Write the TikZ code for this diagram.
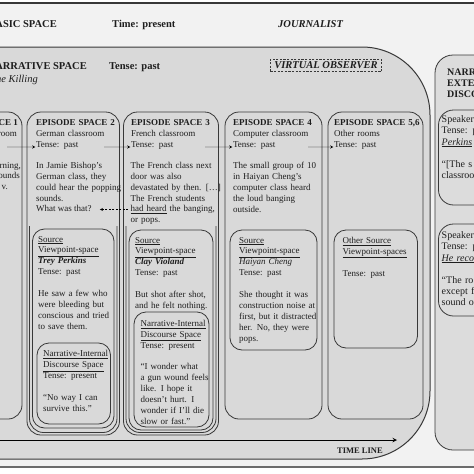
\documentclass[tikz,border=0pt]{standalone}
\usepackage{fontspec}
\setmainfont{Liberation Serif}
\usetikzlibrary{arrows, positioning}

\definecolor{basicfill}{HTML}{F2F2F2}
\definecolor{narrfill}{HTML}{D9D9D9}
\definecolor{extfill}{HTML}{DCDCDC}
\definecolor{boxline}{HTML}{383838}
\definecolor{inkcol}{HTML}{1E1E1E}

\newcommand{\epfont}{\fontsize{9}{10.9}\selectfont}
\newcommand{\hdfont}{\fontsize{10.5}{12.5}\selectfont\bfseries}
\newcommand{\extfont}{\fontsize{10}{11.2}\selectfont}

\tikzstyle{narrspace} = [draw=boxline, line width=1pt, fill=narrfill, rounded corners=68pt]
\tikzstyle{extspace} = [draw=boxline, line width=0.8pt, fill=extfill, rounded corners=18pt]
\tikzstyle{extsub} = [draw=boxline, line width=0.8pt, rounded corners=15pt]
\tikzstyle{episode} = [draw=boxline, line width=0.8pt, rounded corners=14pt]
\tikzstyle{subspace} = [draw=boxline, line width=0.8pt, rounded corners=12pt]
\tikzstyle{spacehead} = [font=\hdfont, text=inkcol, inner sep=0pt]
\tikzstyle{observer} = [draw=boxline, line width=0.8pt, dash pattern=on 2.2pt off 1.4pt, font=\hdfont\itshape, text=inkcol, inner xsep=4pt, inner ysep=2.5pt]
\tikzstyle{eptitle} = [font=\epfont\bfseries, text=inkcol, inner sep=0pt, text width=90pt, align=left, text height=6.2pt, text depth=1.8pt]
\tikzstyle{epline} = [font=\epfont, text=inkcol, inner sep=0pt, text width=90pt, align=left, text height=6.2pt, text depth=1.8pt]
\tikzstyle{epword} = [font=\epfont, text=inkcol, inner sep=0pt, anchor=west, text height=6.2pt, text depth=1.8pt]
\tikzstyle{cutline} = [font=\epfont, text=inkcol, inner sep=0pt, anchor=east, text height=6.2pt, text depth=1.8pt]
\tikzstyle{eptext} = [font=\epfont, text=inkcol, inner sep=0pt, anchor=north west, text width=100pt, align=left]
\tikzstyle{exttext} = [font=\extfont, text=inkcol, inner sep=0pt, anchor=north west, text width=120pt, align=left]
\tikzstyle{timelabel} = [font=\fontsize{8.5}{10}\selectfont\bfseries, text=inkcol, inner sep=0pt, anchor=base west]
\tikzstyle{arrow} = [thin,->,>=stealth,shorten >=0.5pt]
\tikzstyle{backarrow} = [thin,->,>=stealth,dash pattern=on 2pt off 1.5pt,shorten >=8pt]
\tikzstyle{timearrow} = [line width=1pt,->,>=stealth]

\begin{document}
\begin{tikzpicture}[x=1pt, y=-1pt, node distance=10.9pt]
    \useasboundingbox (0,0) rectangle (474,474);
    \fill[white] (0,0) rectangle (474,474);

    % basic, narrative and external spaces
    \fill[basicfill] (-20,3) rectangle (500,467);
    \draw[draw=boxline, line width=1.1pt] (-20,3) -- (500,3);
    \draw[draw=gray!85!black, line width=2.2pt] (-20,467) -- (500,467);
    \draw[narrspace] (-100,47) rectangle (430,459);
    \draw[extspace] (435,55) rectangle (560,450);
    \draw[extsub] (438.5,110) rectangle (560,205);
    \draw[extsub] (438.5,224) rectangle (560,316);

    \node (basic) [spacehead, anchor=base east] at (57,27.5) {BASIC SPACE};
    \node (btime) [spacehead, anchor=base west] at (112,27.5) {Time: present};
    \node (journ) [spacehead, anchor=base west, font=\hdfont\itshape] at (278,27.5) {JOURNALIST};
    \node (narr) [spacehead, anchor=base east] at (87,69.5) {NARRATIVE SPACE};
    \node (ntense) [spacehead, anchor=base west] at (109,69.5) {Tense: past};
    \node (killing) [spacehead, anchor=base east, font=\fontsize{10.5}{12.5}\selectfont\itshape] at (38,82.5) {The Killing};
    \node (observer) [observer] at (326,65.5) {VIRTUAL OBSERVER};

    % episode spaces
    \draw[episode] (-80,112) rectangle (22,419);
    \draw[episode] (27,112) rectangle (119.5,435);
    \draw[episode] (29.5,226) -- (29.5,432.5) -- (117,432.5) -- (117,226);
    \draw[subspace] (32.5,229) rectangle (114,428);
    \draw[subspace] (37,343) rectangle (110.5,424);
    \draw[episode] (123.5,112) rectangle (218.5,435);
    \draw[episode] (126,226) -- (126,432.5) -- (216,432.5) -- (216,226);
    \draw[subspace] (129,230) rectangle (213,430);
    \draw[subspace] (134,312) rectangle (209,427);
    \draw[episode] (225,112) rectangle (322,419);
    \draw[subspace] (230,230) rectangle (317,350);
    \draw[episode] (328,112) rectangle (423,419);
    \draw[subspace] (334,230) rectangle (417.5,348);

    \node (t1) [cutline, font=\epfont\bfseries] at (18,123) {EPISODE SPACE 1};
    \node (r1) [cutline] at (17,133.9) {classroom};
    \node (b1a) [cutline] at (21,165.85) {morning,};
    \node (b1b) [cutline] at (20,176.75) {sounds};
    \node (b1c) [cutline] at (8,187.65) {v.};

    \node (t2) [eptitle] at (81,123) {EPISODE SPACE 2};
    \node (r2) [epline, below of=t2] {German classroom};
    \node (s2) [epline, below of=r2] {Tense: past};
    \node (b2) [eptext] at (36,161.9) {In Jamie Bishop’s\\German class, they\\could hear the popping\\sounds.};
    \node (ask2) [epword] at (36,209.45) {What was that?};
    \node (v2) [eptext] at (38,235.9) {\underline{Source}\\\underline{Viewpoint-space}\\\textbf{\textit{Trey Perkins}}\\Tense: past\\[10.9pt]He saw a few who\\were bleeding but\\conscious and tried\\to save them.};
    \node (n2) [eptext] at (43,350.4) {\underline{Narrative-Internal}\\\underline{Discourse Space}\\Tense: present\\[10.9pt]“No way I can\\survive this.”};

    \node (t3) [eptitle] at (176,123) {EPISODE SPACE 3};
    \node (r3) [epline, below of=t3] {French classroom};
    \node (s3) [epline, below of=r3] {Tense: past};
    \node (b3) [eptext] at (130.5,161.9) {The French class next\\door was also\\devastated by then. […]\\The French students\\\underline{had heard} the banging,\\or pops.};
    \node (v3) [eptext] at (135,236.9) {\underline{Source}\\\underline{Viewpoint-space}\\\textbf{\textit{Clay Violand}}\\Tense: past\\[10.9pt]But shot after shot,\\and he felt nothing.};
    \node (n3) [eptext] at (140.5,319.9) {\underline{Narrative-Internal}\\\underline{Discourse Space}\\Tense: present\\[10.9pt]“I wonder what\\a gun wound feels\\like. I hope it\\doesn’t hurt. I\\wonder if I’ll die\\slow or fast.”};

    \node (t4) [eptitle] at (278,123) {EPISODE SPACE 4};
    \node (r4) [epline, below of=t4] {Computer classroom};
    \node (s4) [epline, below of=r4] {Tense: past};
    \node (b4) [eptext] at (233,161.9) {The small group of 10\\in Haiyan Cheng’s\\computer class heard\\the loud banging\\outside.};
    \node (v4) [eptext] at (239,236.9) {\underline{Source}\\\underline{Viewpoint-space}\\\textit{Haiyan Cheng}\\Tense: past\\[10.9pt]She thought it was\\construction noise at\\first, but it distracted\\her. No, they were\\pops.};

    \node (t5) [eptitle] at (379,123) {EPISODE SPACE 5,6};
    \node (r5) [epline, below of=t5] {Other rooms};
    \node (s5) [epline, below of=r5] {Tense: past};
    \node (v5) [eptext] at (342.5,236.9) {\underline{Other Source}\\\underline{Viewpoint-spaces}\\[10.9pt]Tense: past};

    % narrative-external discourse space
    \node (exthead) [exttext, font=\extfont\bfseries] at (447,68.7) {NARRATIVE-\\EXTERNAL\\DISCOURSE SPACE};
    \node (ext1) [exttext] at (441.5,115.6) {Speaker\\Tense: past\\\underline{\textit{Perkins}}\\[11.2pt]“[The s\\classroom};
    \node (ext2) [exttext] at (441.5,231.6) {Speaker\\Tense: past\\\underline{\textit{He reco}}\\[11.2pt]“The ro\\except f\\sound o};

    % arrows
    \coordinate (go1) at (7,147);
    \coordinate (go2) at (104,147);
    \coordinate (go3) at (205,147);
    \coordinate (go4) at (308,147);
    \coordinate (heard3) at (128,209.45);
    \draw [arrow] (go1) -- (s2.base west);
    \draw [arrow] (go2) -- (s3.base west);
    \draw [arrow] (go3) -- (s4.base west);
    \draw [arrow] (go4) -- (s5.base west);
    \draw [backarrow] (heard3) -- (ask2.east);

    % time line
    \coordinate (tlstart) at (-10,440);
    \coordinate (tlend) at (397,440);
    \draw [timearrow] (tlstart) -- (tlend);
    \node (tl) [timelabel] at (337,453) {TIME LINE};
\end{tikzpicture}
\end{document}
